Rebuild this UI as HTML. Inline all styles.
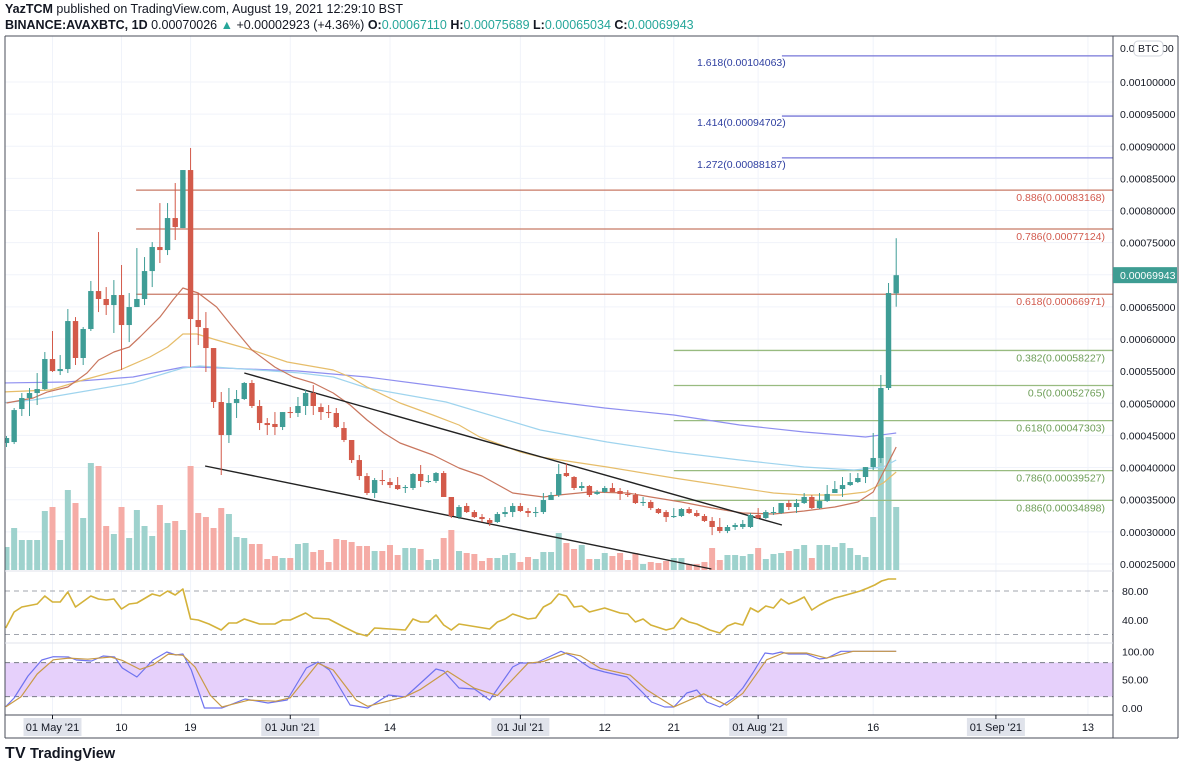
<!DOCTYPE html>
<html><head><meta charset="utf-8">
<style>
html,body{margin:0;padding:0;background:#fff;width:1186px;height:768px;overflow:hidden}
svg{display:block;font-family:"Liberation Sans",sans-serif}
</style></head>
<body>
<svg id="chart" width="1186" height="768" viewBox="0 0 1186 768" xmlns="http://www.w3.org/2000/svg">
  <text x="5" y="13" font-size="12.5" fill="#131722"><tspan font-weight="bold">YazTCM</tspan> published on TradingView.com, August 19, 2021 12:29:10 BST</text>
  <text x="5" y="29" font-size="12.5" fill="#131722"><tspan font-weight="bold">BINANCE:AVAXBTC, 1D</tspan> 0.00070026 <tspan fill="#26a69a">▲</tspan> +0.00002923 (+4.36%) <tspan font-weight="bold">O:</tspan><tspan fill="#26a69a">0.00067110</tspan> <tspan font-weight="bold">H:</tspan><tspan fill="#26a69a">0.00075689</tspan> <tspan font-weight="bold">L:</tspan><tspan fill="#26a69a">0.00065034</tspan> <tspan font-weight="bold">C:</tspan><tspan fill="#26a69a">0.00069943</tspan></text>
  <defs>
    <clipPath id="mainClip"><rect x="5" y="36" width="1108" height="535"/></clipPath>
    <clipPath id="rsiClip"><rect x="5" y="572" width="1108" height="71"/></clipPath>
    <clipPath id="stClip"><rect x="5" y="644" width="1108" height="71"/></clipPath>
  </defs>
  <g id="grid"></g>
  <g id="main" clip-path="url(#mainClip)"></g>
  <g id="rsi" clip-path="url(#rsiClip)"></g>
  <g id="stoch" clip-path="url(#stClip)"></g>
  <g id="axes"></g>
  <g>
    <text x="5" y="758" font-size="16" font-weight="bold" fill="#131722">T</text>
    <text x="15" y="758" font-size="16" font-weight="bold" fill="#131722">V</text>
    <text x="30" y="758" font-size="14.5" font-weight="bold" fill="#131722">TradingView</text>
  </g>
</svg>
<script>
// ---- data (prices in units of 1e-5 BTC), day index 0 = 01 May 2021 ----
const firstDay = -6;
const opens = [43.82,43.97,49.11,50.82,51.60,52.22,56.89,55.02,55.33,62.80,57.05,61.56,67.47,66.23,65.29,66.85,62.18,64.98,66.23,70.58,74.32,73.85,78.83,77.27,86.30,62.96,61.71,58.60,50.20,45.06,50.04,50.67,53.16,49.58,46.93,46.78,46.31,48.64,48.49,49.58,51.60,49.42,48.64,48.49,46.15,44.29,41.17,38.68,36.04,38.06,37.75,37.28,36.82,36.82,39.00,37.91,37.91,39.15,35.42,32.30,34.02,33.08,32.30,31.84,31.53,32.77,33.08,34.02,33.24,32.93,33.08,34.95,35.73,39.15,38.53,36.82,37.13,35.89,36.20,36.82,36.35,35.89,35.73,34.48,34.64,33.55,33.08,32.30,32.46,33.55,32.93,32.46,31.69,30.75,30.13,30.75,30.75,30.75,32.62,32.15,32.93,32.93,34.48,33.86,34.48,35.42,33.70,34.79,36.04,36.66,37.28,37.75,38.53,40.08,41.49,52.38,67.11];
const highs = [44.91,49.27,51.60,52.38,54.71,57.98,61.25,57.51,64.67,63.42,61.87,69.03,76.65,68.09,69.18,71.52,67.16,74.16,72.76,75.09,81.16,81.16,84.28,86.30,89.72,67.16,64.20,58.60,51.76,52.38,52.07,53.31,53.62,50.51,47.71,48.64,48.64,49.42,50.98,52.07,52.84,49.98,49.73,49.27,47.09,44.29,41.95,39.15,38.37,39.62,38.37,38.53,37.28,39.15,40.40,38.84,39.31,39.46,35.42,34.17,34.48,33.39,32.77,32.15,33.08,33.86,34.48,34.48,33.70,33.86,36.04,36.20,40.55,40.71,38.68,37.75,37.28,36.51,37.13,37.59,36.82,36.51,36.04,35.42,34.95,33.70,33.39,33.70,33.70,33.86,33.39,32.77,32.30,32.15,31.06,31.38,31.84,32.93,33.70,33.39,33.86,34.48,34.95,35.11,36.04,35.73,36.04,37.28,37.91,38.53,39.15,39.15,40.08,45.38,54.40,68.72,75.69];
const lows = [43.20,43.66,48.02,48.02,49.73,52.07,54.87,54.40,54.71,55.96,55.96,61.25,64.20,63.74,60.94,55.18,59.53,64.98,65.29,68.09,71.83,73.07,75.41,77.27,55.64,59.07,54.87,49.27,38.84,43.82,47.71,50.51,49.27,45.84,45.06,45.06,45.84,47.71,47.87,48.18,48.18,47.40,47.71,46.15,43.97,40.71,38.06,35.73,35.26,37.28,36.82,36.51,36.04,36.51,36.97,37.59,37.59,35.42,32.15,31.99,32.93,32.15,31.53,30.91,31.38,32.30,32.30,33.08,32.30,32.30,32.77,34.95,35.42,38.53,36.51,36.35,35.42,35.73,36.04,36.20,34.95,35.42,34.33,34.02,33.39,32.77,31.53,32.15,32.30,32.77,32.30,31.53,29.49,29.80,29.80,30.29,30.44,30.60,31.99,31.99,32.62,32.77,33.39,32.93,34.33,33.55,33.55,34.64,36.04,35.42,37.13,37.59,37.59,39.62,40.71,52.07,65.03];
const closes = [44.60,48.95,50.82,51.60,52.22,56.89,55.02,55.33,62.80,57.05,61.56,67.47,66.23,65.29,66.85,62.18,64.98,66.23,70.58,74.32,73.85,78.83,77.43,86.30,63.11,61.87,58.60,50.20,45.06,50.04,50.67,53.16,49.58,46.93,46.62,46.31,48.64,48.49,49.58,51.60,49.58,48.64,48.49,46.31,44.29,41.17,38.68,36.04,38.06,37.91,37.28,36.66,36.97,39.00,37.91,37.91,39.15,35.42,32.46,33.86,33.08,32.30,31.99,31.38,32.77,33.08,34.02,33.24,32.93,33.08,34.95,35.73,39.00,38.68,36.82,37.13,35.73,36.20,36.82,36.20,35.89,35.73,34.48,34.64,33.70,32.93,32.30,32.46,33.55,32.93,32.46,31.69,30.75,30.13,30.75,31.06,31.22,32.62,32.15,33.08,33.08,34.48,33.86,34.48,35.42,33.70,34.79,35.89,36.66,37.28,37.75,38.37,40.08,41.49,52.38,67.16,69.94];
const volumes = [23,42,30,30,30,59,63,30,80,67,52,107,104,44,36,63,32,60,44,34,65,47,49,40,104,57,53,42,62,56,33,32,26,26,11,14,12,12,26,27,18,20,8,31,30,28,24,24,19,19,25,15,22,22,21,10,11,32,40,19,17,16,9,12,12,15,17,8,13,11,18,18,37,27,21,25,11,11,17,14,17,10,17,6,8,7,9,12,12,6,6,8,22,10,15,15,14,16,22,11,16,17,19,21,25,12,25,25,23,27,22,15,13,53,132,133,63];

const ma1Days = [-6,-2.5,-0.7,2,4.5,6,8,10,11.4,14,15.7,17,19,21.4,23.5,26,29,31.4,34,36.6,38.8,41,43.2,45.3,49.6,53,56,60,64,66,70,75,78,82,86,90,94,98,102,105,107,108,110];
const ma1Vals = [50.04,50.82,51.75,52.53,54.71,56.73,57.98,58.76,60.31,63.42,66.07,67.94,67.16,64.98,61.87,58.29,55.64,54.09,53.16,51.60,49.73,47.40,45.38,43.82,41.95,39.93,38.68,36.04,35.42,35.73,36.20,36.04,35.42,34.64,33.70,32.93,32.77,33.24,33.86,34.64,36.20,38.53,43.20];
const ma2Days = [-6.8,-0.3,4,8.8,12.7,15,17,18.8,21.4,26,30.6,36.6,38.8,41,45.3,49.6,53,55.7,61,63.6,72.3,81,89.6,94,98,102.7,106,108.3,110];
const ma2Vals = [51.75,52.07,53.62,55.18,57.20,58.76,60.78,60.78,59.85,58.29,56.42,55.18,54.09,52.53,50.04,48.18,46.62,44.75,42.42,41.64,40.08,38.37,36.82,36.04,35.73,35.73,36.20,37.59,39.31];
const ma3Days = [-6.8,-2.5,10.5,17,19.2,32.3,36.6,41,51.3,63.6,72.3,81,89.6,98,104.5,108.3,110];
const ma3Vals = [50.04,50.51,53.16,55.49,55.80,54.71,54.09,52.38,50.20,45.84,43.97,42.42,41.17,40.08,39.62,40.08,41.17];
const ma4Days = [-6.8,1.8,10.5,17,19.2,32,41,51,63.6,72,81,89.6,98,104.5,106,110];
const ma4Vals = [53.16,53.31,54.09,55.64,55.64,55.02,54.09,52.53,50.51,49.27,48.18,46.62,45.53,44.91,44.75,45.38];

const trendUpperDays = [25,95.1];
const trendUpperVals = [54.71,31.06];
const trendLowerDays = [19.9,85.9];
const trendLowerVals = [40.24,24.21];

const fibLevels = ["1.618","1.414","1.272","0.886","0.786","0.618","0.382","0.5","0.618","0.786","0.886"];
const fibPrices = [104.063,94.702,88.187,83.168,77.124,66.971,58.227,52.765,47.303,39.527,34.898];
const fibStartDays = [95.1,95.1,95.1,10.9,10.9,10.9,81,81,81,81,81];
const fibGroups = ["ext","ext","ext","red","red","red","grn","grn","grn","grn","grn"];

const priceTicks = [100,95,90,85,80,75,70,65,60,55,50,45,40,35,30,25];
const lastPrice = 69.943;

const rsiDays = [-6.1,-5,-4,-2,-1,0,1,2,3,5,6,7,8,9,10,11,13,14,15,16,17,18,19,20.4,22,23,24,25,27,29,30,31,33,34,36,38,39.6,41,42,44,46,47,48,49,50,51,52,53,57,58,59,60,62,63,64,65,66,67,68,69,70,72,74,75,76,77,78,80,81,82,83,84,85.7,87,88,89,90,91,92,93,94,95,96,97,98,99,100,101,102,103,104.4,105.3,106.3,107.2,108.1,109,110];
const rsiVals = [29.0,51.0,57.9,62.1,73.1,64.8,64.8,78.6,57.9,73.1,69.0,67.6,69.0,55.2,62.1,63.4,75.9,73.1,80,74.5,82.8,41.4,40.0,34.5,26.2,35.9,35.9,41.4,34.5,34.5,40.0,40.0,49.7,42.8,41.4,30.4,22.1,17.9,29.0,27.6,26.2,41.4,37.2,37.2,46.9,33.1,26.2,34.5,27.6,37.2,41.4,48.3,41.4,42.8,57.9,63.4,75.9,73.1,57.9,59.3,51.0,56.6,49.7,48.3,37.2,41.4,33.1,26.2,29.0,42.8,37.2,34.5,26.2,22.1,31.7,35.9,33.1,56.6,51.0,59.3,56.6,69.0,62.1,66.2,71.7,53.8,60.7,66.2,70.3,73.1,77.2,80,84.1,88.3,93.8,96.5,96.5];
const rsiTicks = [80,40];

const kDays = [-6.1,-5,-3.2,-1.4,0.1,2.1,3.1,5.1,6.6,8.1,9.1,11,13.1,14.9,16.1,17,18.1,19.8,22.1,25.1,28.1,30.6,33.1,34.6,36.1,38.8,41.1,43.8,46,48,50,51,53,55,57,60,61,63,65,66.3,68,70.1,72,74.9,77,78.1,79.8,81,82.7,84,85.3,87,88.8,90,91.3,92.9,93.9,95,96,98.3,100,101,102.8,110];
const kVals = [2.3,17.6,56.4,84.7,90.5,89.9,84.7,82.9,91.7,89.9,70.5,54.7,84.7,98.8,93.5,95.2,67.0,0,0,15.9,8.8,14.1,70.5,81.1,67.0,5.3,0,22.9,19.4,44.1,68.8,65.3,35.3,33.5,14.1,72.3,79.4,79.4,91.7,100,89.9,70.5,63.5,54.7,26.5,10.6,1.8,1.8,26.5,31.7,10.6,1.8,17.6,35.3,61.7,97.0,95.2,98.8,95.2,95.2,86.4,88.2,100,100];
const dDays = [-6.1,-4.1,-2,0.1,2.1,4.6,7.6,9.1,11.4,13.1,15.1,17,18.6,20.6,22.1,25.6,29.1,31,34.6,36.6,39.6,41.1,46,48,51.5,55,58,62,64,67,68.8,71.4,75.3,77.5,81,84.9,87.9,90,93.1,95.3,98.3,100.9,104.4,110];
const dVals = [2,20,60,85,88,86,90,84,68,76,95,93,72,22,2,14,12,18,79,67,14,3,20,33,65,35,22,79,82,97,92,70,58,32,2,25,5,26,85,97,97,88,100,100];
const stochTicks = [100,50,0];

const timeLabelDays = [0,9,18,31,44,61,72,81,92,107,123,135];
const timeLabels = ["01 May '21","10","19","01 Jun '21","14","01 Jul '21","12","21","01 Aug '21","16","01 Sep '21","13"];
const timeLabelBoxed = [true,false,false,true,false,true,false,false,true,false,true,false];

// ---- scales ----
const NS = "http://www.w3.org/2000/svg";
function xOf(d){ return 52.5 + d*7.67; }
function yOf(p){ return 82 + (100 - p)*6.426; }
function yVol(v){ return 570 - v; }
function yRsi(v){ return 591 + (80 - v)*0.725; }
function ySt(v){ return 708 - v*0.567; }
function mk(tag, parent, attrs){
  const e = document.createElementNS(NS, tag);
  for (const k in attrs) e.setAttribute(k, attrs[k]);
  parent.appendChild(e);
  return e;
}
const grid = document.getElementById('grid');
const main = document.getElementById('main');
const rsiG = document.getElementById('rsi');
const stG = document.getElementById('stoch');
const axes = document.getElementById('axes');

priceTicks.forEach(function(p){
  const l = mk('line', grid, {x1:5, x2:1113, y1:yOf(p), y2:yOf(p), stroke:'#f0f3fa', 'stroke-width':1});
  
  
});
timeLabelDays.forEach(function(d){
  const l = mk('line', grid, {x1:xOf(d), x2:xOf(d), y1:36, y2:715, stroke:'#f0f3fa', 'stroke-width':1});
  
  
});

volumes.forEach(function(v, k){
  const d = firstDay + k;
  const up = closes[k] >= opens[k];
  const r = mk('rect', main, {x:xOf(d)-3, y:yVol(v), width:6, height:v, fill: up ? '#9ed2cd' : '#f5aca6'});
  
  
});

const fibLineColor = {ext:'#7777d8', red:'#c87a66', grn:'#98bb80'};
const fibTextColor = {ext:'#2d3ea0', red:'#d25a4e', grn:'#6e9e58'};
fibPrices.forEach(function(p, k){
  const g = fibGroups[k];
  const y = yOf(p);
  const l = mk('line', main, {x1:xOf(fibStartDays[k]), x2:1113, y1:y, y2:y, stroke:fibLineColor[g], 'stroke-width':1.3});
  
  
  const txt = fibLevels[k] + '(' + (p/100000).toFixed(8) + ')';
  let t;
  if (g === 'ext') {
    t = mk('text', main, {x:697, y:y+10, 'font-size':10.5, fill:fibTextColor[g]});
  } else {
    t = mk('text', main, {x:1105, y:y+11, 'font-size':10.5, fill:fibTextColor[g], 'text-anchor':'end'});
  }
  t.textContent = txt;
  
  
});

function poly(parent, days, vals, yf, color, w, name){
  const pts = days.map(function(d, k){ return xOf(d).toFixed(1) + ',' + yf(vals[k]).toFixed(1); }).join(' ');
  const pl = mk('polyline', parent, {points:pts, fill:'none', stroke:color, 'stroke-width':w, 'stroke-linejoin':'round'});
  
  
}
poly(main, ma4Days, ma4Vals, yOf, '#8f8ff0', 1.2, 'ma-200-line');
poly(main, ma3Days, ma3Vals, yOf, '#9fd4ee', 1.2, 'ma-100-line');
poly(main, ma2Days, ma2Vals, yOf, '#e6bd6a', 1.2, 'ma-50-line');
poly(main, ma1Days, ma1Vals, yOf, '#c9765e', 1.2, 'ma-20-line');

poly(main, trendUpperDays, trendUpperVals, yOf, '#222', 1.4, 'upper-trendline');
poly(main, trendLowerDays, trendLowerVals, yOf, '#222', 1.4, 'lower-trendline');

opens.forEach(function(o, k){
  const d = firstDay + k;
  const c = closes[k];
  const up = c >= o;
  const col = up ? '#3f9d96' : '#d35a4a';
  const x = xOf(d);
  const w = mk('line', main, {x1:x, x2:x, y1:yOf(highs[k]), y2:yOf(lows[k]), stroke:col, 'stroke-width':1});
  
  
  const top = yOf(Math.max(o, c)), bot = yOf(Math.min(o, c));
  const b = mk('rect', main, {x:x-2.7, y:top, width:5.4, height:Math.max(1, bot-top), fill:col});
  
  
});

rsiTicks.forEach(function(v){
  const l = mk('line', rsiG, {x1:5, x2:1113, y1:yRsi(v)+ (v===40? 14.5:0), y2:yRsi(v)+(v===40?14.5:0), stroke:'#a0a4ad', 'stroke-dasharray':'5,4', 'stroke-width':1});
  
  
});
poly(rsiG, rsiDays, rsiVals, yRsi, '#d4b23a', 1.6, 'rsi-line');

const band = mk('rect', stG, {x:5, y:ySt(80), width:1108, height:ySt(20)-ySt(80), fill:'#e6d0fb'});


[80,20].forEach(function(v){
  const l = mk('line', stG, {x1:5, x2:1113, y1:ySt(v), y2:ySt(v), stroke:'#787b86', 'stroke-dasharray':'5,4', 'stroke-width':1});
  
  
});
poly(stG, kDays, kVals, ySt, '#6f73ef', 1.2, 'stoch-k-line');
poly(stG, dDays, dVals, ySt, '#c99a46', 1.2, 'stoch-d-line');

[[5,36,1178,36],[5,738,1178,738],[5,36,5,738],[1178,36,1178,738],[1113,36,1113,738],[5,571,1113,571],[5,643,1113,643],[5,715,1113,715]].forEach(function(s){
  const l = mk('line', axes, {x1:s[0], y1:s[1], x2:s[2], y2:s[3], stroke: (s[1]===571||s[1]===643)&&s[3]===s[1] ? '#e0e3eb' : '#4a4e59', 'stroke-width':1});
  
  
});

priceTicks.forEach(function(p){
  const t = mk('text', axes, {x:1120, y:yOf(p)+4, 'font-size':10.5, fill:'#131722'});
  t.textContent = (p/100000).toFixed(8);
  
  
});
const tTop = mk('text', axes, {x:1120, y:52, 'font-size':10.5, fill:'#131722'});
tTop.textContent = '0.0';


const tTop2 = mk('text', axes, {x:1162, y:52, 'font-size':10.5, fill:'#131722'});
tTop2.textContent = '00';


const btcBox = mk('rect', axes, {x:1134, y:41, width:29, height:15, rx:4, fill:'#fff', stroke:'#d1d4dc'});


const btcT = mk('text', axes, {x:1148.5, y:52, 'font-size':10.5, fill:'#131722', 'text-anchor':'middle'});
btcT.textContent = 'BTC';



const lpBox = mk('rect', axes, {x:1113, y:yOf(lastPrice)-8, width:64, height:16, fill:'#3e9d93'});


const lpT = mk('text', axes, {x:1120, y:yOf(lastPrice)+4, 'font-size':10.5, fill:'#fff'});
lpT.textContent = (lastPrice/100000).toFixed(8);



rsiTicks.forEach(function(v){
  const t = mk('text', axes, {x:1122, y:yRsi(v)+4, 'font-size':10.5, fill:'#131722'});
  t.textContent = v.toFixed(2);
  
  
});
stochTicks.forEach(function(v){
  const t = mk('text', axes, {x:1122, y:ySt(v)+4, 'font-size':10.5, fill:'#131722'});
  t.textContent = v.toFixed(2);
  
  
});

timeLabels.forEach(function(s, k){
  const x = xOf(timeLabelDays[k]);
  if (timeLabelBoxed[k]) {
    const r = mk('rect', axes, {x:x-29, y:718, width:58, height:18, fill:'#e0e3eb'});
    
    
    const tk = mk('line', axes, {x1:x, x2:x, y1:715, y2:719, stroke:'#131722'});
    
    
  }
  const t = mk('text', axes, {x:x, y:731, 'font-size':11, fill:'#131722', 'text-anchor':'middle'});
  t.textContent = s;
  
  
});
</script>
</body></html>
